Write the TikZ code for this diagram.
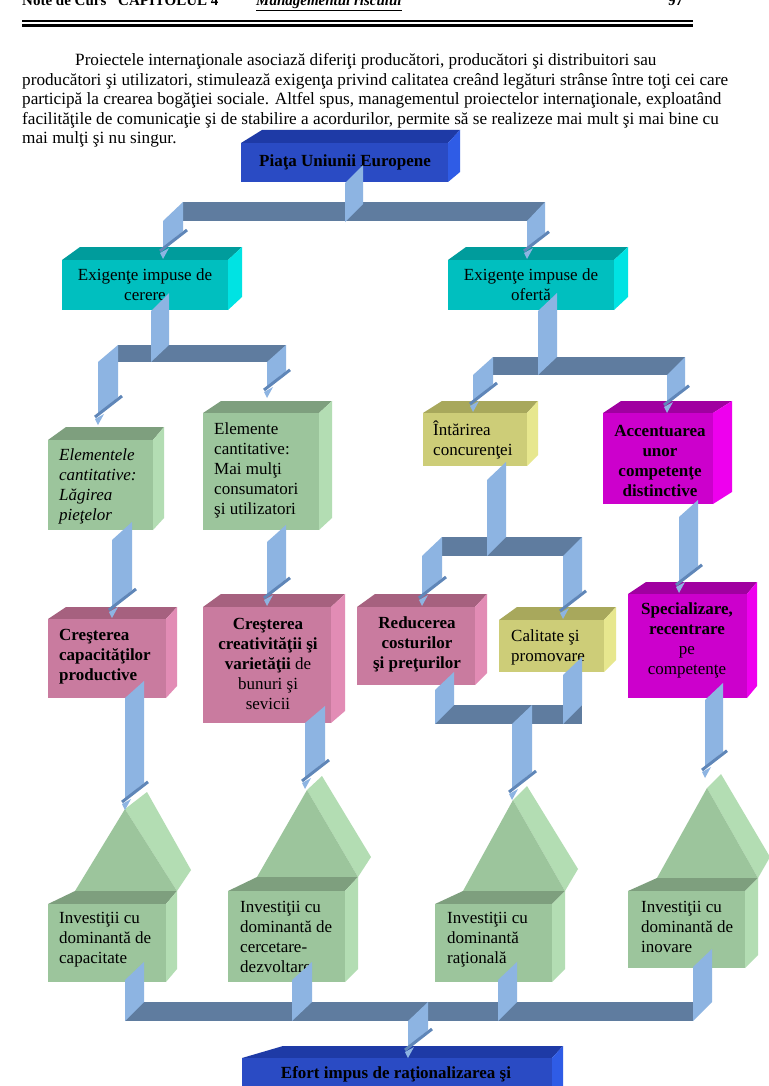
\documentclass[tikz,border=0pt]{standalone}
\usepackage{fontspec}
\setmainfont{Liberation Serif}
\definecolor{ribbon}{HTML}{8DB4E2}
\definecolor{ribbondk}{HTML}{5F86B8}
\definecolor{barc}{HTML}{5F7C9F}
\definecolor{bluef}{HTML}{2A4BC4}\definecolor{bluet}{HTML}{1E3AA6}\definecolor{blues}{HTML}{2F5CE6}
\definecolor{tealf}{HTML}{00BFBF}\definecolor{tealt}{HTML}{009C9C}\definecolor{teals}{HTML}{00E3E3}
\definecolor{greenf}{HTML}{9CC59C}\definecolor{greent}{HTML}{7E9F7E}\definecolor{greens}{HTML}{B3DDB3}
\definecolor{pinkf}{HTML}{C97B9F}\definecolor{pinkt}{HTML}{A6617F}\definecolor{pinks}{HTML}{E28CB5}
\definecolor{olivef}{HTML}{CDCD78}\definecolor{olivet}{HTML}{A8A85C}\definecolor{olives}{HTML}{E7E78E}
\definecolor{magf}{HTML}{CC00CC}\definecolor{magt}{HTML}{A000A0}\definecolor{mags}{HTML}{EE00EE}
\tikzset{
  T/.style={font=\fontsize{17}{20}\selectfont, inner sep=0pt, text=black},
  TB/.style={font=\fontsize{17}{20}\selectfont\bfseries, inner sep=0pt, text=black},
  TL/.style={align=left, anchor=west},
  TC/.style={align=center},
  P/.style={font=\fontsize{17.2}{19.5}\selectfont, inner sep=0pt, anchor=base west},
  H/.style={font=\fontsize{15}{18}\selectfont\bfseries, inner sep=0pt, anchor=base west},
}
% cube: colour prefix, front (x1,y1,x2,y2), back (bx1,by1,bx2,by2)
\def\drawcube#1(#2,#3,#4,#5)(#6,#7,#8,#9){%
  \fill[#1t] (#2,#3) -- (#6,#7) -- (#8,#7) -- (#4,#3) -- cycle;
  \fill[#1s] (#4,#3) -- (#8,#7) -- (#8,#9) -- (#4,#5) -- cycle;
  \fill[#1f] (#2,#3) rectangle (#4,#5);}
% vertical ribbon: x0,x1, top-left y, top-right y, bottom-left y, bottom-right y
\def\vstrip(#1,#2,#3,#4,#5,#6){\fill[ribbon] (#1,#3) -- (#2,#4) -- (#2,#6) -- (#1,#5) -- cycle;}
\def\ahead(#1,#2,#3,#4){%
  \fill[ribbon] (#1-3,#3+5) -- (#1+6,#3) -- (#1,#3+11) -- cycle;
  \draw[ribbondk, line width=3pt] (#1-3,#3+3) -- (#2+4,#4-1);}
\def\darrow(#1,#2,#3,#4,#5){%
  \pgfmathsetmacro\yl{#5-11}\pgfmathsetmacro\yr{#5-11-0.85*(#2-#1)}%
  \vstrip(#1,#2,#3,#4,\yl,\yr)\ahead(#1,#2,\yl,\yr)}
\def\roof(#1,#2)(#3,#4)(#5,#6)(#7,#8)(#9){%
  \fill[greens] (#1,#2) -- (#3,#4) -- (#5,#6) -- (#7,#8) -- cycle;
  \fill[greenf] (#1,#2) -- (#9) -- (#7,#8) -- cycle;}
\begin{document}
\begin{tikzpicture}[x=1pt,y=-1pt]
\useasboundingbox (0,0) rectangle (768,1086);
\fill[white] (0,0) rectangle (768,1086);
% header
\node[H] (h1) at (22,6) {Note de Curs};
\node[H] (h2) at (118,6) {CAPITOLUL 4};
\node[H] (h3) at (256,6) {\underline{\textit{Managementul riscului}}};
\node[H] (h4) at (668,6) {97};
\draw[line width=1.5pt] (22,21) -- (693,21);
\draw[line width=3pt] (22,25.5) -- (693,25.5);
% paragraph
\node[P] (p1) at (75,66) {Proiectele internaţionale asociază diferiţi producători, producători şi distribuitori sau};
\node[P] (p2) at (22,85.5) {producători şi utilizatori, stimulează exigenţa privind calitatea creând legături strânse între toţi cei care};
\node[P] (p3) at (22,105) {participă la crearea bogăţiei sociale. Altfel spus, managementul proiectelor internaţionale, exploatând};
\node[P] (p4) at (22,124.5) {facilităţile de comunicaţie şi de stabilire a acordurilor, permite să se realizeze mai mult şi mai bine cu};
\node[P] (p5) at (22,144) {mai mulţi şi nu singur.};
% boxes
\drawcube blue(241,143,448,182)(262,130,460,172)
\node[TB] (piata) at (345,162) {Piaţa Uniunii Europene};
\drawcube teal(62,260,228,310)(80,247,242,297)
\node[T,TC] (cerere) at (145,285) {Exigenţe impuse de\\cerere};
\drawcube teal(448,260,614,310)(466,247,628,297)
\node[T,TC] (oferta) at (531,285) {Exigenţe impuse de\\ofertă};
\drawcube green(48,440,153,530)(66,427,164,518)
\node[T,TL,font=\fontsize{17}{20}\selectfont\itshape] (lagirea) at (59,486) {Elementele\\cantitative:\\Lăgirea\\pieţelor};
\drawcube green(203,413,319,530)(221,401,332,518)
\node[T,TL] (consum) at (214,470) {Elemente\\cantitative:\\Mai mulţi\\consumatori\\şi utilizatori};
\drawcube olive(423,413,527,466)(442,401,538,455)
\node[T,TL] (intarirea) at (433,440) {Întărirea\\concurenţei};
\drawcube mag(603,413,713,504)(621,401,732,492)
\node[TB,TC] (accent) at (660,461) {Accentuarea\\unor\\competenţe\\distinctive};
\drawcube pink(48,619,166,698)(66,607,177,686)
\node[TB,TL] (capacit) at (59,657) {Creşterea\\capacităţilor\\productive};
\drawcube pink(203,607,331,723)(221,594,345,711)
\node[T,TC] (creativ) at (268,664) {\textbf{Creşterea}\\\textbf{creativităţii şi}\\\textbf{varietăţii} de\\bunuri şi\\sevicii};
\drawcube pink(357,607,475,685)(375,594,487,673)
\node[TB,TC] (reducerea) at (417,644) {Reducerea\\costurilor\\şi preţurilor};
\drawcube olive(499,620,604,672)(517,607,616,660)
\node[T,TL] (calitate) at (511,647) {Calitate şi\\promovare};
\drawcube mag(628,594,747,698)(646,582,757,686)
\node[T,TC] (special) at (687,640) {\textbf{Specializare,}\\\textbf{recentrare}\\pe\\competenţe};
% houses
\roof(125,809)(147,792)(191,870)(177,891)(75,891)
\drawcube green(48,904,166,982)(75,891,177,969)
\node[T,TL] (inv1) at (59,940) {Investiţii cu\\dominantă de\\capacitate};
\roof(307,790)(322,776)(371,857)(358,877)(257,877)
\drawcube green(228,891,345,982)(257,877,358,969)
\node[T,TL] (inv2) at (240,937) {Investiţii cu\\dominantă de\\cercetare-\\dezvoltare};
\roof(513,800)(527,786)(578,869)(565,891)(463,891)
\drawcube green(435,904,552,982)(463,891,565,969)
\node[T,TL] (inv3) at (447,940) {Investiţii cu\\dominantă\\raţională};
\roof(707,788)(721,774)(770,857)(758,878)(657,878)
\drawcube green(628,891,745,968)(657,878,758,955)
\node[T,TL] (inv4) at (641,927) {Investiţii cu\\dominantă de\\inovare};
% bottom box
\drawcube blue(242,1058,552,1100)(283,1046,563,1090)
\node[TB] (efort) at (396,1074) {Efort impus de raţionalizarea şi};
% bars
\fill[barc] (183,202) rectangle (545,221);
\fill[barc] (118,345) rectangle (286,362);
\fill[barc] (493,357) rectangle (685,375);
\fill[barc] (442,537) rectangle (582,556);
\fill[barc] (435,705) rectangle (582,724);
\fill[barc] (125,1002) rectangle (693,1021);
% ribbons and arrows
\vstrip(345,363,183,165,222,204)
\darrow(163,183,221,202,259)
\darrow(527,545,221,202,259)
\vstrip(151,169,311,293,362,345)
\darrow(98,118,362,345,425)
\darrow(267,286,362,345,398)
\vstrip(538,557,311,293,375,357)
\darrow(473,493,375,357,412)
\darrow(667,685,375,357,413)
\darrow(112,132,540,522,618)
\darrow(267,286,542,525,606)
\vstrip(487,506,480,462,556,537)
\darrow(422,442,556,537,606)
\darrow(563,582,556,537,619)
\darrow(679,698,517,500,593)
\darrow(125,144,698,681,810)
\darrow(305,325,723,706,789)
\vstrip(435,454,690,672,724,705)
\vstrip(563,582,675,657,724,705)
\darrow(512,532,724,705,800)
\darrow(705,723,700,683,778)
\vstrip(125,144,980,962,1021,1002)
\vstrip(292,312,980,962,1021,1002)
\vstrip(498,517,980,962,1021,1002)
\vstrip(693,712,967,949,1021,1002)
\darrow(408,428,1021,1002,1058)
\end{tikzpicture}
\end{document}
